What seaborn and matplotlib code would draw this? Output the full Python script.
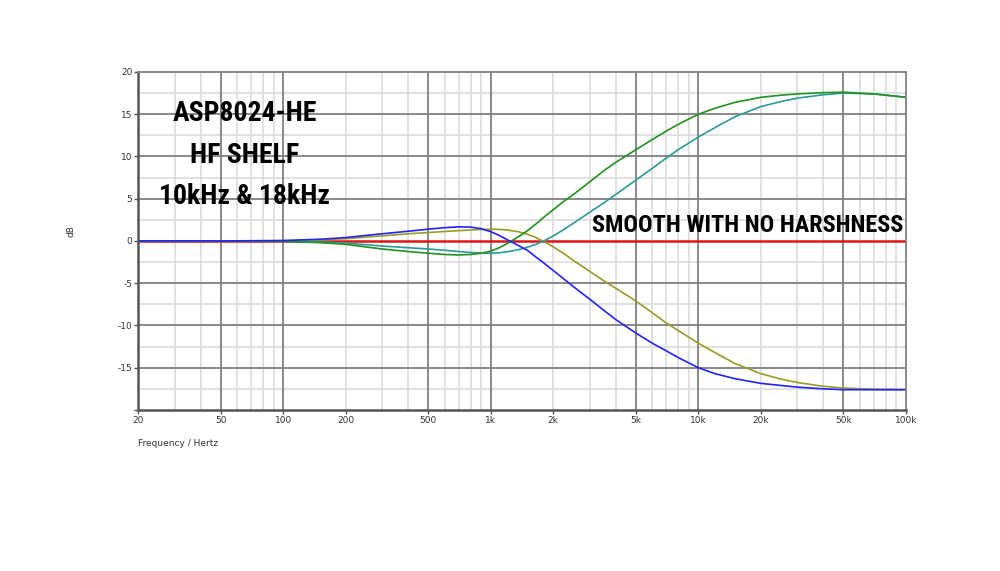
import numpy as np
import pandas as pd
import matplotlib
matplotlib.use("Agg")
import matplotlib.pyplot as plt
import seaborn as sns

# DATOS
freqs = [20, 50, 100, 150, 200, 300, 400, 500, 600, 700, 800, 900, 1000, 1100,
         1200, 1350, 1500, 1650, 1800, 2000, 2250, 2500, 3000, 3500, 4000, 5000,
         6000, 7000, 8000, 10000, 12000, 15000, 20000, 25000, 30000, 40000,
         50000, 70000, 100000]

blue_db = [0, 0, 0.05, 0.2, 0.4, 0.85, 1.15, 1.4, 1.57, 1.67, 1.64, 1.45, 1.1, 0.65,
           0.15, -0.5, -1.1, -1.9, -2.6, -3.5, -4.5, -5.4, -6.9, -8.2, -9.3, -10.9,
           -12.1, -13.0, -13.8, -15.0, -15.7, -16.3, -16.85, -17.1, -17.3, -17.5,
           -17.6, -17.6, -17.6]
olive_db = [0, 0, 0.03, 0.12, 0.27, 0.6, 0.85, 1.0, 1.12, 1.22, 1.3, 1.35, 1.38, 1.37,
            1.3, 1.1, 0.8, 0.4, -0.05, -0.7, -1.5, -2.3, -3.6, -4.7, -5.6, -7.1,
            -8.5, -9.7, -10.6, -12.1, -13.2, -14.5, -15.7, -16.35, -16.75, -17.2,
            -17.4, -17.55, -17.6]
green_db = [0, 0, -0.05, -0.2, -0.4, -0.95, -1.25, -1.45, -1.6, -1.66, -1.6, -1.45, -1.2, -0.8,
            -0.3, 0.45, 1.2, 2.0, 2.8, 3.7, 4.7, 5.5, 7.0, 8.3, 9.3, 10.8,
            12.0, 13.0, 13.8, 15.0, 15.7, 16.4, 17.0, 17.25, 17.4, 17.55,
            17.6, 17.4, 17.0]
teal_db = [0, 0, -0.03, -0.12, -0.25, -0.6, -0.8, -0.95, -1.1, -1.25, -1.36, -1.43, -1.45, -1.4,
           -1.28, -1.05, -0.75, -0.4, 0.0, 0.6, 1.35, 2.1, 3.4, 4.5, 5.5, 7.2,
           8.6, 9.8, 10.8, 12.3, 13.4, 14.7, 15.9, 16.5, 16.9, 17.3,
           17.5, 17.4, 17.0]

curve_names = ["blue", "olive", "green", "teal"]
curve_colors = {"blue": "#2222ff", "olive": "#9a9a26", "green": "#1f911f", "teal": "#2a9a9a"}

x_tick_vals = [20, 50, 100, 200, 500, 1000, 2000, 5000, 10000, 20000, 50000, 100000]
x_tick_labels = ["20", "50", "100", "200", "500", "1k", "2k", "5k", "10k", "20k", "50k", "100k"]
y_tick_vals = [-20, -15, -10, -5, 0, 5, 10, 15, 20]
y_tick_labels = ["", "-15", "-10", "-5", "0", "5", "10", "15", "20"]

titulo = "ASP8024-HE\nHF SHELF\n10kHz & 18kHz"
lema = "SMOOTH WITH NO HARSHNESS"

# TABLA LARGA PARA SEABORN
df = pd.concat([
    pd.DataFrame({"freq": freqs, "db": vals, "curve": name})
    for name, vals in zip(curve_names, [blue_db, olive_db, green_db, teal_db])
], ignore_index=True)

sns.set_theme(style="white")
plt.rcParams["font.family"] = ["DejaVu Sans"]

fig = plt.figure(figsize=(10, 5.71), dpi=100)
ax = fig.add_axes([0.138, 0.282, 0.768, 0.592])

# REJILLA
dark = "#808080"
light = "#dcdcdc"
for d in [10, 100, 1000, 10000]:
    for m in [2, 3, 4, 6, 7, 8, 9]:
        f = m * d
        if 20 < f < 100000:
            ax.axvline(f, color=light, lw=1.2, zorder=0)
for f in [50, 100, 500, 1000, 5000, 10000, 50000]:
    ax.axvline(f, color=dark, lw=1.3, zorder=0.5)
for y in np.arange(-17.5, 20, 5):
    ax.axhline(y, color=light, lw=1.2, zorder=0)
for y in [-15, -10, -5, 5, 10, 15]:
    ax.axhline(y, color=dark, lw=1.3, zorder=0.5)

ax.axhline(0, color="#dd1515", lw=1.8, zorder=1)

sns.lineplot(data=df, x="freq", y="db", hue="curve", palette=curve_colors,
             hue_order=["olive", "teal", "green", "blue"], legend=False,
             lw=1.2, ax=ax, zorder=2)

ax.set_xscale("log")
ax.set_xlim(20, 100000)
ax.set_ylim(-20, 20)
ax.set_xticks(x_tick_vals)
ax.set_xticklabels(x_tick_labels)
ax.xaxis.set_minor_locator(matplotlib.ticker.NullLocator())
ax.set_yticks(y_tick_vals)
ax.set_yticklabels(y_tick_labels)
ax.tick_params(axis="both", labelsize=6.5, labelcolor="#333333", colors="#555555",
               length=3, width=1, pad=1, bottom=True, left=True)

for side in ["left", "bottom"]:
    ax.spines[side].set_color("#555555")
    ax.spines[side].set_linewidth(1.8)
for side in ["top", "right"]:
    ax.spines[side].set_color(dark)
    ax.spines[side].set_linewidth(1.3)

ax.set_xlabel("Frequency / Hertz", fontsize=6.5, color="#333333", loc="left")
ax.xaxis.set_label_coords(0.0, -0.085)
ax.set_ylabel("dB", fontsize=6.5, color="#333333")
ax.yaxis.set_label_coords(-0.082, 0.53)

fuente = ["Roboto Condensed", "Liberation Sans Narrow", "DejaVu Sans"]
ax.text(0.139, 0.754, titulo, transform=ax.transAxes, ha="center", va="center",
        fontsize=20, fontweight="black", family=fuente, fontstretch="condensed",
        linespacing=1.7, color="black", zorder=5)
ax.text(0.997, 0.547, lema, transform=ax.transAxes, ha="right", va="center",
        fontsize=17.5, fontweight="black", family=fuente, fontstretch="condensed",
        color="black", zorder=5)

plt.savefig("out.png", dpi=100)
plt.close()
